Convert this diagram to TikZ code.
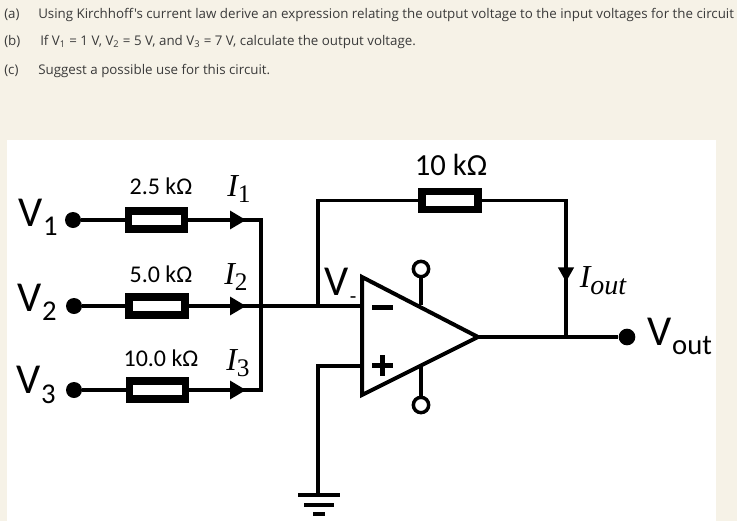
\documentclass[tikz,border=0pt]{standalone}
\usepackage{fontspec}
\setmainfont{Carlito}
\newfontfamily\qfont{Open Sans}
\newfontfamily\cfont{Liberation Serif}
\usetikzlibrary{arrows.meta}
\definecolor{paper}{HTML}{F6F2E7}
\definecolor{qtext}{HTML}{3A3A3A}
\newcommand{\volt}[2]{{\fontsize{32}{32}\selectfont #1\hspace{0.5pt}\raisebox{-7pt}{\fontsize{21.5}{21.5}\selectfont #2}}}
\newcommand{\cur}[2]{{\cfont\fontsize{24}{24}\selectfont\itshape #1\raisebox{-5pt}{\fontsize{19}{19}\selectfont\upshape #2}}}
\tikzset{
  wire/.style={line width=2.5pt,black},
  res/.style={draw,line width=5.5pt,fill=white,minimum width=42pt,minimum height=13.5pt,inner sep=0pt},
  dot/.style={circle,fill=black,inner sep=0pt,minimum width=10.5pt,minimum height=12pt},
  ring/.style={circle,draw,line width=2.6pt,fill=white,inner sep=0pt,minimum size=11.5pt},
  tip/.style={-{Triangle[length=12pt,width=13.5pt]}},
  qline/.style={anchor=base west,inner sep=0pt,text=qtext,font=\qfont\fontsize{10}{12}\selectfont},
  rlabel/.style={font=\fontsize{18}{18}\selectfont},
}
\begin{document}
\begin{tikzpicture}[x=0.75pt,y=-0.75pt]
  \useasboundingbox (0,0) rectangle (737,521);
  \fill[paper] (0,0) rectangle (737,521);
  \fill[white] (7,140) rectangle (716,521);
  % question
  \node[qline] (qa) at (4,18) {(a)};
  \node[qline] (qb) at (4,45) {(b)};
  \node[qline] (qc) at (4,74) {(c)};
  \node[qline] (ta) at (38,18) {Using Kirchhoff's current law derive an expression relating the output voltage to the input voltages for the circuit};
  \node[qline] (tb) at (40,45) {If V\textsubscript{1} = 1 V, V\textsubscript{2} = 5 V, and V\textsubscript{3} = 7 V, calculate the output voltage.};
  \node[qline] (tc) at (38,74) {Suggest a possible use for this circuit.};
  % inputs
  \node[dot] (d1) at (73,220) {};
  \node[dot] (d2) at (74,306) {};
  \node[dot] (d3) at (74,390) {};
  \node[res] (r1) at (156.5,220) {};
  \node[res] (r2) at (157,306) {};
  \node[res] (r3) at (157.5,390) {};
  \coordinate (a1) at (246,220);
  \coordinate (a2) at (246,306);
  \coordinate (a3) at (246,390);
  \coordinate (j1) at (261,220);
  \coordinate (j2) at (261,306);
  \coordinate (j3) at (261,390);
  \draw[wire] (d1) -- (r1);
  \draw[wire] (d2) -- (r2);
  \draw[wire] (d3) -- (r3);
  \draw[wire,line join=miter] (r1) -- (j1) -- (j3) -- (r3);
  \draw[wire,tip] (r1) -- (a1);
  \draw[wire,tip] (r2) -- (a2);
  \draw[wire,tip] (r3) -- (a3);
  \node[rlabel] (l1) at (161,186) {2.5 kΩ};
  \node[rlabel] (l2) at (161,274) {5.0 kΩ};
  \node[rlabel] (l3) at (161,358) {10.0 kΩ};
  \node (v1) at (38,217) {\volt{V}{1}};
  \node (v2) at (37,302) {\volt{V}{2}};
  \node (v3) at (36,385) {\volt{V}{3}};
  \node (i1) at (239,189) {\cur{I}{1}};
  \node (i2) at (236,277) {\cur{I}{2}};
  \node (i3) at (238,363) {\cur{I}{3}};
  % op amp
  \coordinate (oa) at (362,277);
  \coordinate (ob) at (362,395);
  \coordinate (oc) at (478,337);
  \coordinate (nin) at (362,306);
  \coordinate (pin) at (362,366);
  \draw[line width=3pt,line join=miter,fill=white] (oa) -- (oc) -- (ob) -- cycle;
  \draw[wire] (r2) -- (nin);
  \fill (372,304.5) rectangle (393,309.5);
  \fill (372,362.5) rectangle (393,367.5);
  \fill (380,354.5) rectangle (385,375.5);
  \node[ring] (up) at (421,269) {};
  \node[ring] (dn) at (421,405) {};
  \coordinate (upf) at (421,305);
  \coordinate (dnf) at (421,367);
  \draw[wire] (up) -- (upf);
  \draw[wire] (dn) -- (dnf);
  \node[anchor=base west,inner sep=0pt,font=\fontsize{32}{32}\selectfont] (vm) at (324,295) {V\hspace{1pt}\raisebox{-6pt}{\fontsize{16}{16}\selectfont -}};
  % feedback
  \node[res] (rf) at (450,200.5) {};
  \node[font=\fontsize{23}{23}\selectfont] (lf) at (451,165) {10 kΩ};
  \coordinate (f1) at (318,306);
  \coordinate (f2) at (318,200.5);
  \coordinate (f3) at (566,200.5);
  \coordinate (f4) at (566,337);
  \coordinate (fa) at (566,282);
  \draw[wire] (f1) -- (f2) -- (rf);
  \draw[wire] (rf) -- (f3) -- (f4);
  \draw[wire,-{Triangle[length=11pt,width=11.5pt]}] (f3) -- (fa);
  \node (io) at (603,281) {{\cfont\fontsize{24}{24}\selectfont\itshape I\raisebox{-5pt}{\fontsize{21}{21}\selectfont out}}};
  % output
  \node[dot,minimum width=10.5pt,minimum height=12.5pt] (dout) at (627,337) {};
  \draw[wire] (oc) -- (dout);
  \node[anchor=base west,inner sep=0pt] (vo) at (647,345) {\volt{V}{out}};
  % ground
  \coordinate (gin) at (318,366);
  \coordinate (g1) at (318,495);
  \draw[wire] (pin) -- (gin) -- (g1);
  \draw[line width=3.4pt] (298,495) -- (340,495);
  \draw[line width=3.4pt] (304,505) -- (334,505);
  \draw[line width=3.4pt] (313,514) -- (325,514);
\end{tikzpicture}
\end{document}
